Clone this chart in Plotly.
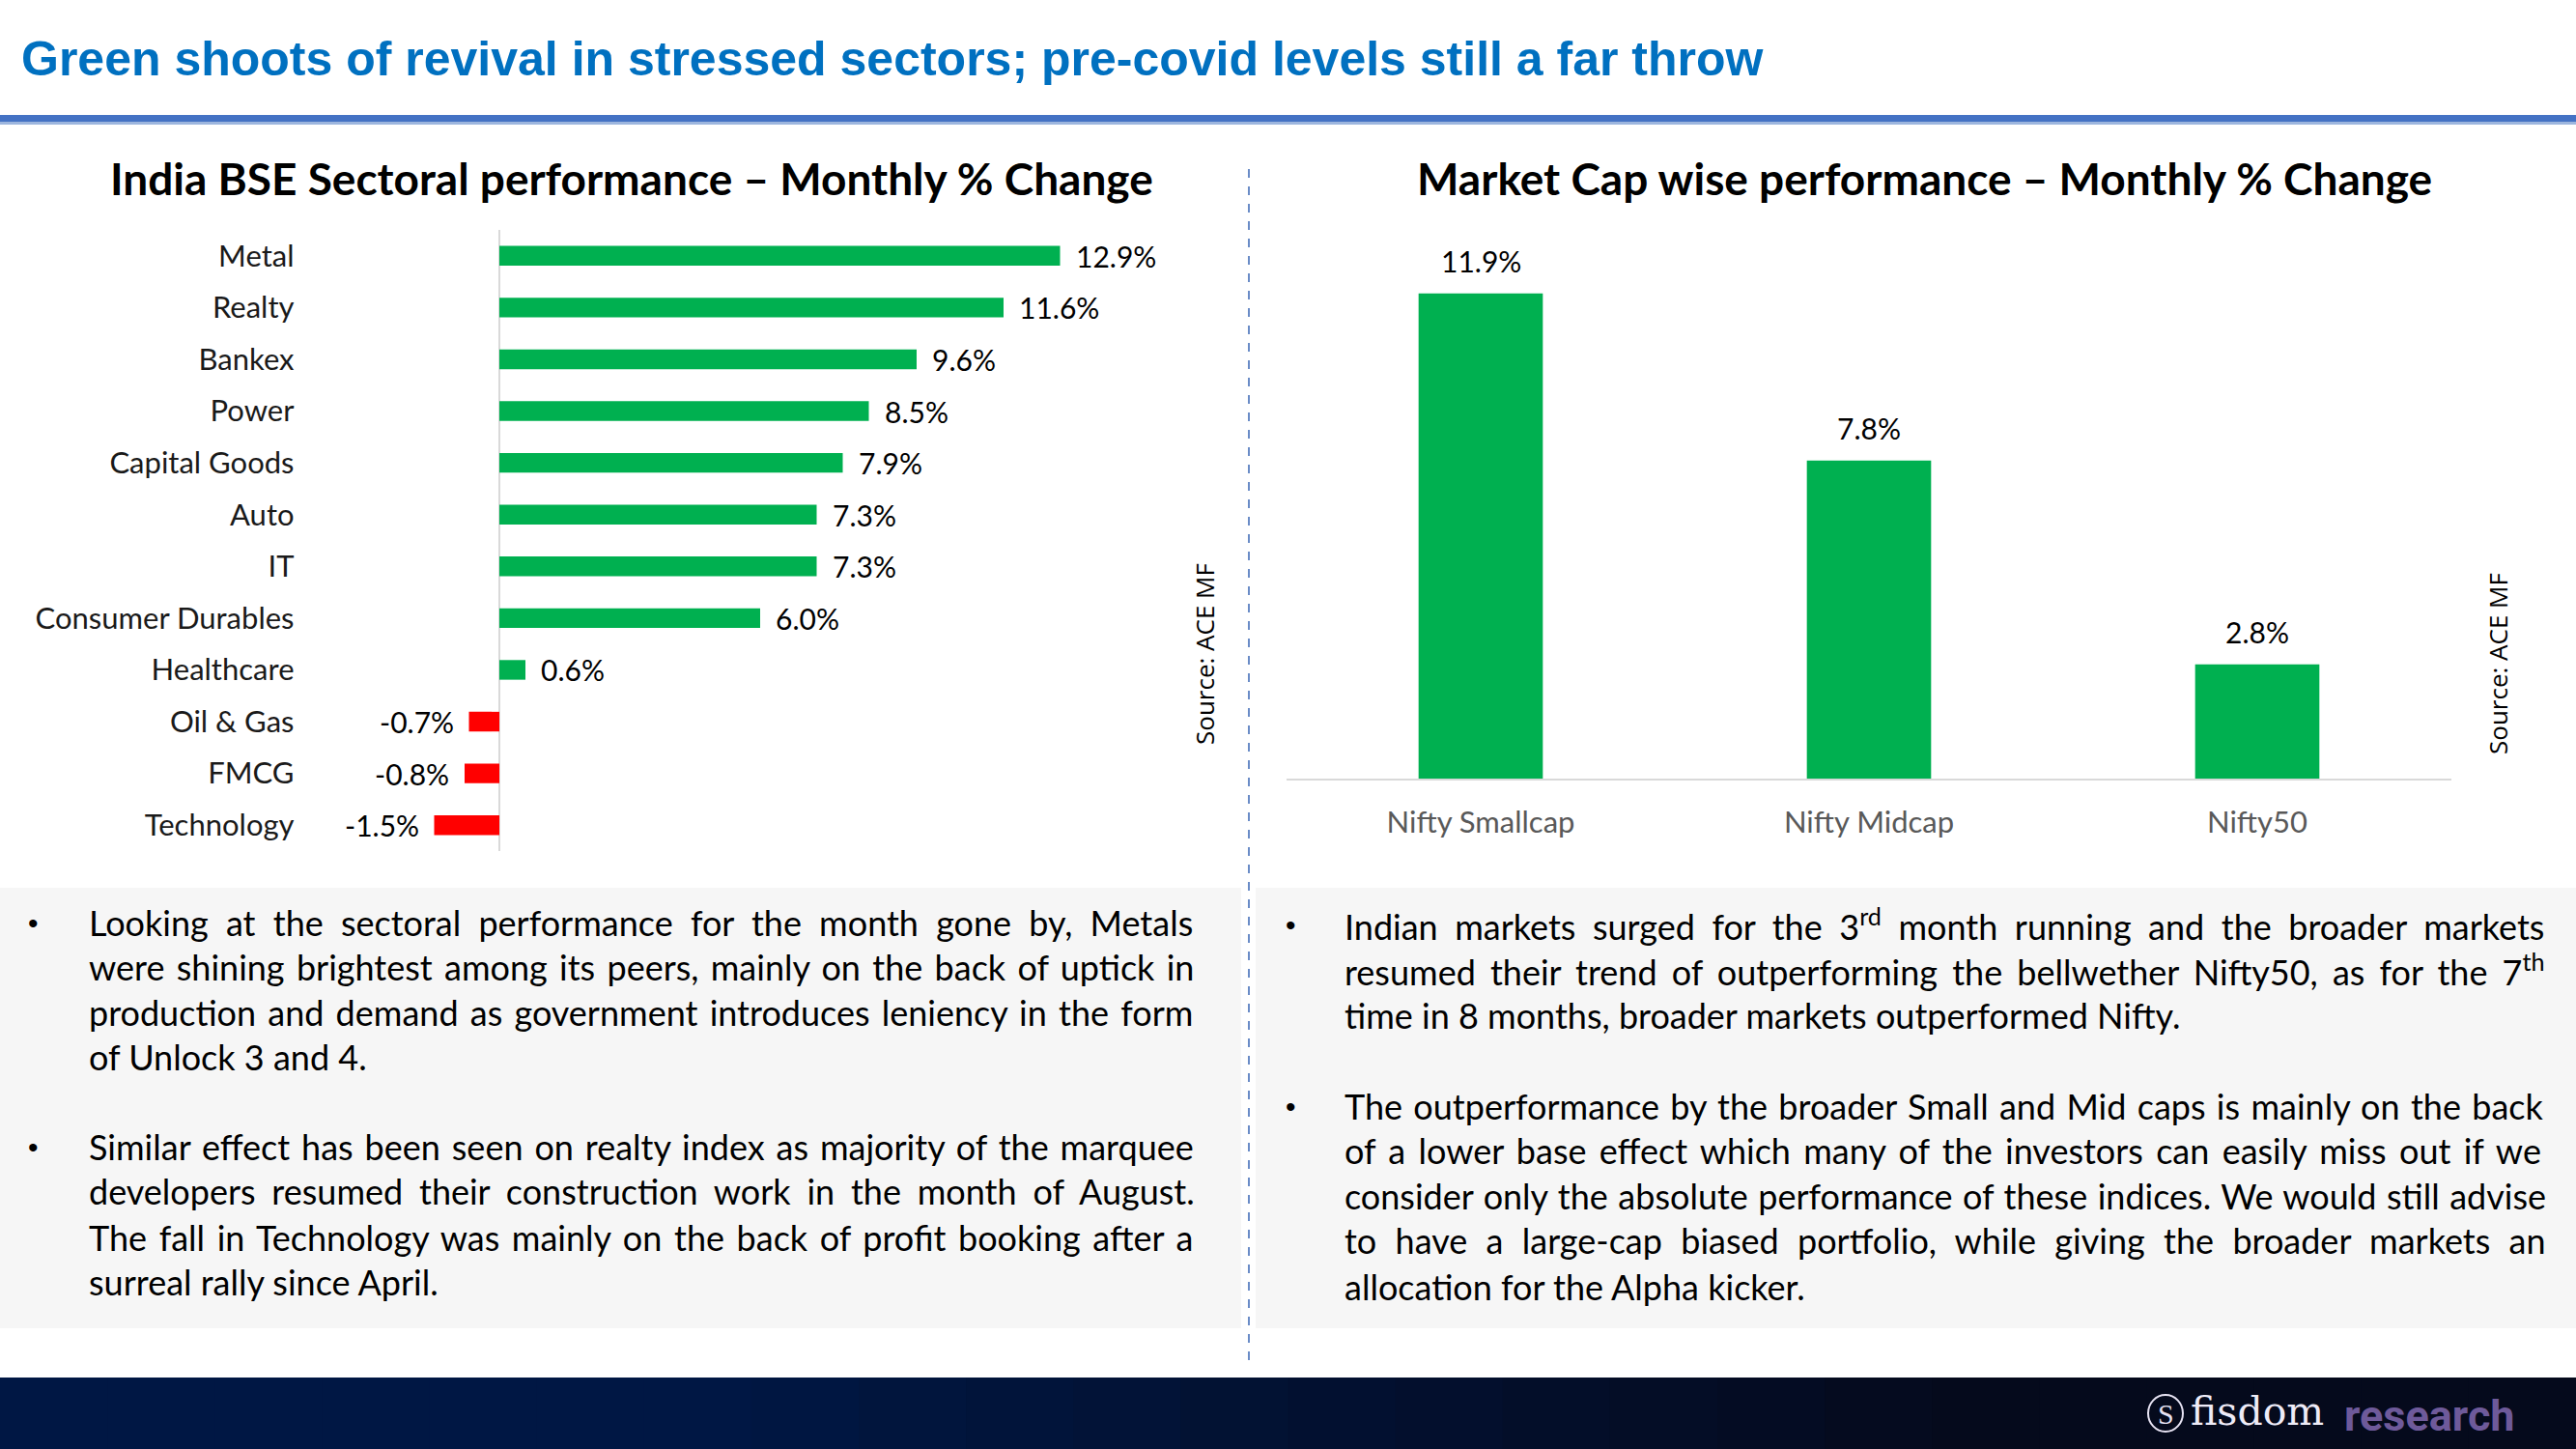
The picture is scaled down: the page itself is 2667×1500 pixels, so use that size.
import plotly.graph_objects as go

W, H = 2667, 1500

# ---------------- data ----------------
sectors = ["Metal", "Realty", "Bankex", "Power", "Capital Goods", "Auto", "IT",
           "Consumer Durables", "Healthcare", "Oil & Gas", "FMCG", "Technology"]
sector_change = [12.9, 11.6, 9.6, 8.5, 7.9, 7.3, 7.3, 6.0, 0.6, -0.7, -0.8, -1.5]

mcap_cats = ["Nifty Smallcap", "Nifty Midcap", "Nifty50"]
mcap_change = [11.9, 7.8, 2.8]

main_title = "Green shoots of revival in stressed sectors; pre-covid levels still a far throw"
left_title = "India BSE Sectoral performance \u2013 Monthly % Change"
right_title = "Market Cap wise performance \u2013 Monthly % Change"
source_text = "Source: ACE MF"

left_para = [
    ["Looking at the sectoral performance for the month gone by, Metals",
     "were shining brightest among its peers, mainly on the back of uptick in",
     "production and demand as government introduces leniency in the form",
     "of Unlock 3 and 4."],
    ["Similar effect has been seen on realty index as majority of the marquee",
     "developers resumed their construction work in the month of August.",
     "The fall in Technology was mainly on the back of profit booking after a",
     "surreal rally since April."],
]
right_para = [
    ["Indian markets surged for the 3<sup>rd</sup> month running and the broader markets",
     "resumed their trend of outperforming the bellwether Nifty50, as for the 7<sup>th</sup>",
     "time in 8 months, broader markets outperformed Nifty."],
    ["The outperformance by the broader Small and Mid caps is mainly on the back",
     "of a lower base effect which many of the investors can easily miss out if we",
     "consider only the absolute performance of these indices. We would still advise",
     "to have a large-cap biased portfolio, while giving the broader markets an",
     "allocation for the Alpha kicker."],
]
# word spacing (px) used to justify each line (0 = last line of a paragraph)
left_spacing = [[9.0, 3.1, 3.0, 0], [2.7, 7.6, 3.4, 0]]
right_spacing = [[8.3, 5.9, 0], [2.1, 4.1, 1.3, 10.1, 0]]

# ---------------- helpers ----------------
def px(x):
    return x / W

def py(y):
    return 1 - y / H

GREEN = "#00B050"
RED = "#FF0000"
FONT = "Lato"

fig = go.Figure()

fig.add_trace(go.Bar(
    y=sectors, x=sector_change, orientation="h",
    marker=dict(color=[GREEN if v >= 0 else RED for v in sector_change], line=dict(width=0)),
    width=0.38, xaxis="x", yaxis="y", showlegend=False, hoverinfo="x+y",
))

fig.add_trace(go.Bar(
    x=mcap_cats, y=mcap_change,
    marker=dict(color=GREEN, line=dict(width=0)),
    width=0.32, xaxis="x2", yaxis="y2", showlegend=False, hoverinfo="x+y",
))

shapes = []
# footer gradient strips (navy -> near black)
n_strips = 24
c0 = (0, 23, 68)
c1 = (5, 10, 28)
for i in range(n_strips):
    t = min(1.0, max(0.0, (i - 6) / 12))
    col = "rgb(%d,%d,%d)" % tuple(round(a + (b - a) * t) for a, b in zip(c0, c1))
    shapes.append(dict(type="rect", xref="paper", yref="paper",
                       x0=i / n_strips, x1=(i + 1) / n_strips + 0.002,
                       y0=0, y1=py(1426), fillcolor=col, line=dict(width=0), layer="below"))
# blue rule under the title
shapes.append(dict(type="rect", xref="paper", yref="paper", x0=0, x1=1,
                   y0=py(126), y1=py(119), fillcolor="#4472C4", line=dict(width=0), layer="below"))
shapes.append(dict(type="rect", xref="paper", yref="paper", x0=0, x1=1,
                   y0=py(129), y1=py(126), fillcolor="#9DB6DE", line=dict(width=0), layer="below"))
# text panels
shapes.append(dict(type="rect", xref="paper", yref="paper", x0=0, x1=px(1285),
                   y0=py(1375), y1=py(919), fillcolor="#F6F6F6", line=dict(width=0), layer="below"))
shapes.append(dict(type="rect", xref="paper", yref="paper", x0=px(1300), x1=1,
                   y0=py(1375), y1=py(919), fillcolor="#F6F6F6", line=dict(width=0), layer="below"))
# dashed divider
shapes.append(dict(type="line", xref="paper", yref="paper", x0=px(1293), x1=px(1293),
                   y0=py(1408), y1=py(170), line=dict(color="#6A8CC7", width=2, dash="dash")))
# logo circle
shapes.append(dict(type="circle", xref="paper", yref="paper", x0=px(2224), x1=px(2260),
                   y0=py(1482), y1=py(1444), line=dict(color="#E6E2F2", width=2)))

ann = []
# data labels, placed through the axes' scales
for cat, v in zip(sectors, sector_change):
    ann.append(dict(text="%.1f%%" % v, x=v, y=cat, xref="x", yref="y",
                    xanchor="left" if v >= 0 else "right", yanchor="middle",
                    xshift=14 if v >= 0 else -14, showarrow=False,
                    font=dict(family=FONT, size=30, color="#000000")))
for cat, v in zip(mcap_cats, mcap_change):
    ann.append(dict(text="%.1f%%" % v, x=cat, y=v, xref="x2", yref="y2",
                    xanchor="center", yanchor="bottom", yshift=14, showarrow=False,
                    font=dict(family=FONT, size=30, color="#000000")))

ann.append(dict(text="<b>" + main_title + "</b>", x=px(20), y=py(61), xref="paper", yref="paper",
                xanchor="left", yanchor="middle", showarrow=False,
                font=dict(family="Liberation Sans", size=50, color="#0070C0")))
ann.append(dict(text="<b>" + left_title + "</b>", x=px(654), y=py(184), xref="paper", yref="paper",
                xanchor="center", yanchor="middle", showarrow=False,
                font=dict(family=FONT, size=46, color="#000000")))
ann.append(dict(text="<b>" + right_title + "</b>", x=px(1993), y=py(184), xref="paper", yref="paper",
                xanchor="center", yanchor="middle", showarrow=False,
                font=dict(family=FONT, size=46, color="#000000")))
for sx, sy in [(1247, 677), (2586, 687)]:
    ann.append(dict(text=source_text, x=px(sx), y=py(sy), xref="paper", yref="paper",
                    xanchor="center", yanchor="middle", showarrow=False, textangle=-90,
                    font=dict(family="Open Sans", size=26, color="#000000")))

def add_paras(paras, spacing, x_bullet, x_text, ys):
    i = 0
    for para, sp in zip(paras, spacing):
        for j, line in enumerate(para):
            if j == 0:
                ann.append(dict(text="\u2022", x=px(x_bullet), y=py(ys[i]), xref="paper", yref="paper",
                                xanchor="center", yanchor="middle", showarrow=False,
                                font=dict(family="Liberation Sans", size=30, color="#000000")))
            txt = line if sp[j] == 0 else '<span style="word-spacing:%.1fpx">%s</span>' % (sp[j], line)
            ann.append(dict(text=txt, x=px(x_text), y=py(ys[i]), xref="paper", yref="paper",
                            xanchor="left", yanchor="middle", showarrow=False,
                            font=dict(family=FONT, size=36, color="#000000")))
            i += 1

add_paras(left_para, left_spacing, 34, 90, [955, 1001, 1048, 1094, 1187, 1233, 1281, 1327])
add_paras(right_para, right_spacing, 1336, 1390, [957, 1004, 1051, 1145, 1191, 1238, 1284, 1332])

# footer logo text
ann.append(dict(text="S", x=px(2242), y=py(1463), xref="paper", yref="paper",
                xanchor="center", yanchor="middle", showarrow=False,
                font=dict(family="Liberation Serif", size=30, color="#E6E2F2")))
ann.append(dict(text="fisdom", x=px(2266), y=py(1461), xref="paper", yref="paper",
                xanchor="left", yanchor="middle", showarrow=False,
                font=dict(family="DejaVu Serif", size=41, color="#EEEBF7")))
ann.append(dict(text="<b>research</b>", x=px(2425), y=py(1465), xref="paper", yref="paper",
                xanchor="left", yanchor="middle", showarrow=False,
                font=dict(family="Roboto", size=45, color="#6E5A9A")))

fig.update_layout(
    width=W, height=H, margin=dict(l=0, r=0, t=0, b=0),
    paper_bgcolor="#FFFFFF", plot_bgcolor="rgba(0,0,0,0)",
    font=dict(family=FONT),
    shapes=shapes, annotations=ann,
    xaxis=dict(domain=[px(305.5), px(1192)], range=[-4.7, 15], showgrid=False,
               showticklabels=False, zeroline=True, zerolinecolor="#D9D9D9", zerolinewidth=2,
               showline=False, fixedrange=True),
    yaxis=dict(domain=[py(881), py(238)], categoryorder="array", categoryarray=sectors,
               autorange="reversed", showgrid=False, zeroline=False, showline=False,
               ticks="", tickfont=dict(family=FONT, size=31, color="#1A1A1A"), ticklabelstandoff=0),
    xaxis2=dict(domain=[px(1332), px(2538)], range=[-0.5, 2.5], showgrid=False, zeroline=False,
                showline=True, linecolor="#D9D9D9", linewidth=2, ticks="",
                tickfont=dict(family=FONT, size=31, color="#595959"), ticklabelstandoff=17,
                anchor="y2"),
    yaxis2=dict(domain=[py(806), py(257.4)], range=[0, 13], showgrid=False, zeroline=False,
                showline=False, showticklabels=False, anchor="x2"),
)

fig.write_html("out.html")
